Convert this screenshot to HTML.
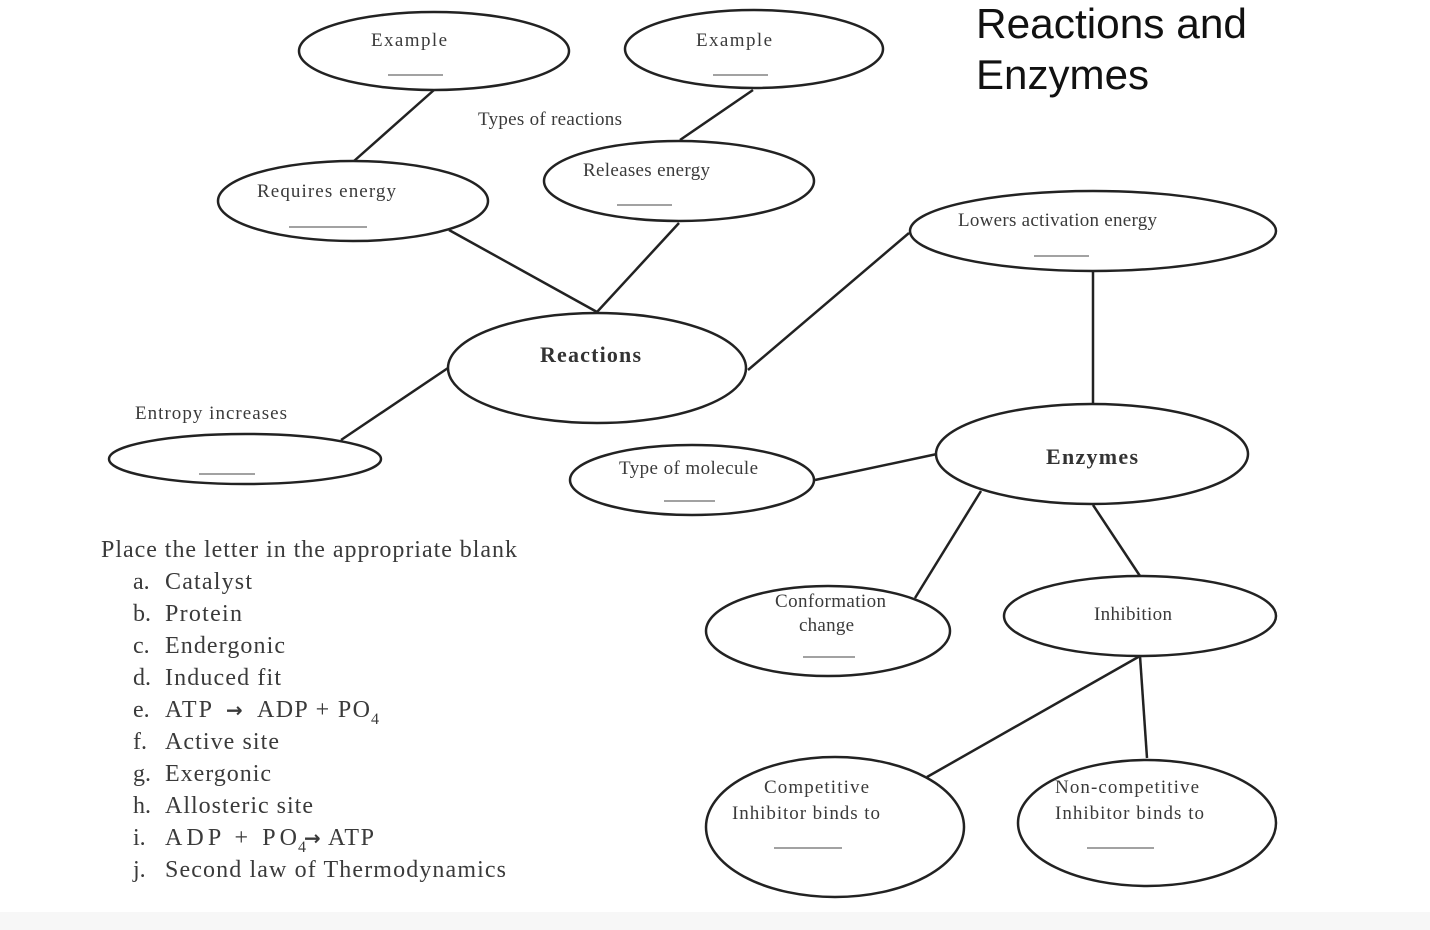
<!DOCTYPE html>
<html><head><meta charset="utf-8"><style>
html,body{margin:0;padding:0;background:#fff;}
svg{display:block;}
.s{font-family:"Liberation Serif",serif;fill:#3a3a3a;}
</style></head><body>
<svg width="1430" height="930" viewBox="0 0 1430 930" xmlns="http://www.w3.org/2000/svg">
<rect x="0" y="912" width="1430" height="18" fill="#f7f7f7"/>
<g fill="none" stroke="#222" stroke-width="2.5">
<ellipse cx="434" cy="51" rx="135" ry="39"/>
<ellipse cx="754" cy="49" rx="129" ry="39"/>
<ellipse cx="353" cy="201" rx="135" ry="40"/>
<ellipse cx="679" cy="181" rx="135" ry="40"/>
<ellipse cx="1093" cy="231" rx="183" ry="40"/>
<ellipse cx="597" cy="368" rx="149" ry="55"/>
<ellipse cx="245" cy="459" rx="136" ry="25"/>
<ellipse cx="692" cy="480" rx="122" ry="35"/>
<ellipse cx="1092" cy="454" rx="156" ry="50"/>
<ellipse cx="828" cy="631" rx="122" ry="45"/>
<ellipse cx="1140" cy="616" rx="136" ry="40"/>
<ellipse cx="835" cy="827" rx="129" ry="70"/>
<ellipse cx="1147" cy="823" rx="129" ry="63"/>
<line x1="434" y1="90" x2="354" y2="161"/>
<line x1="753" y1="90" x2="680" y2="140"/>
<line x1="449" y1="230" x2="597" y2="312"/>
<line x1="679" y1="223" x2="597" y2="312"/>
<line x1="909" y1="233" x2="748" y2="370"/>
<line x1="1093" y1="271" x2="1093" y2="404"/>
<line x1="448" y1="368" x2="341" y2="440"/>
<line x1="815" y1="480" x2="937" y2="454"/>
<line x1="981" y1="491" x2="915" y2="598"/>
<line x1="1093" y1="505" x2="1140" y2="576"/>
<line x1="1140" y1="656" x2="927" y2="777"/>
<line x1="1140" y1="656" x2="1147" y2="758"/>
</g>
<g stroke="#444" stroke-width="1">
<line x1="388" y1="75" x2="443" y2="75"/>
<line x1="713" y1="75" x2="768" y2="75"/>
<line x1="289" y1="227" x2="367" y2="227"/>
<line x1="617" y1="205" x2="672" y2="205"/>
<line x1="1034" y1="256" x2="1089" y2="256"/>
<line x1="199" y1="474" x2="255" y2="474"/>
<line x1="664" y1="501" x2="715" y2="501"/>
<line x1="803" y1="657" x2="855" y2="657"/>
<line x1="774" y1="848" x2="842" y2="848"/>
<line x1="1087" y1="848" x2="1154" y2="848"/>
</g>
<g class="s" font-size="19" lengthAdjust="spacingAndGlyphs">
<text x="371" y="46" textLength="76">Example</text>
<text x="696" y="46" textLength="76">Example</text>
<text x="478" y="125" textLength="144">Types of reactions</text>
<text x="257" y="197" textLength="139">Requires energy</text>
<text x="583" y="176" textLength="127">Releases energy</text>
<text x="958" y="226" textLength="199">Lowers activation energy</text>
<text x="135" y="419" textLength="152">Entropy increases</text>
<text x="619" y="474" textLength="139">Type of molecule</text>
<text x="775" y="607" textLength="111">Conformation</text>
<text x="799" y="631" textLength="55">change</text>
<text x="1094" y="620" textLength="78">Inhibition</text>
<text x="764" y="793" textLength="105">Competitive</text>
<text x="732" y="819" textLength="148">Inhibitor binds to</text>
<text x="1055" y="793" textLength="144">Non-competitive</text>
<text x="1055" y="819" textLength="149">Inhibitor binds to</text>
<text x="540" y="362" font-size="22" font-weight="bold" fill="#333" textLength="101">Reactions</text>
<text x="1046" y="464" font-size="22" font-weight="bold" fill="#333" textLength="92">Enzymes</text>
</g>
<g font-family="Liberation Sans,sans-serif" font-size="42" fill="#111">
<text x="976" y="38" textLength="271" lengthAdjust="spacingAndGlyphs">Reactions and</text>
<text x="976" y="89" textLength="173" lengthAdjust="spacingAndGlyphs">Enzymes</text>
</g>
<g class="s" font-size="24" fill="#333" lengthAdjust="spacingAndGlyphs">
<text x="101" y="557" textLength="416">Place the letter in the appropriate blank</text>
<text x="133" y="589">a.</text><text x="165" y="589" textLength="87">Catalyst</text>
<text x="133" y="621">b.</text><text x="165" y="621" textLength="77">Protein</text>
<text x="133" y="653">c.</text><text x="165" y="653" textLength="120">Endergonic</text>
<text x="133" y="685">d.</text><text x="165" y="685" textLength="116">Induced fit</text>
<text x="133" y="717">e.</text><text x="165" y="717" textLength="47">ATP</text>
<text x="226" y="717" font-family="DejaVu Sans,sans-serif" font-weight="bold" font-size="20">→</text>
<text x="257" y="717" textLength="113">ADP + PO</text><text x="371" y="724" font-size="16">4</text>
<text x="133" y="749">f.</text><text x="165" y="749" textLength="114">Active site</text>
<text x="133" y="781">g.</text><text x="165" y="781" textLength="106">Exergonic</text>
<text x="133" y="813">h.</text><text x="165" y="813" textLength="148">Allosteric site</text>
<text x="133" y="845">i.</text><text x="165" y="845" textLength="132">ADP + PO</text><text x="298" y="852" font-size="16">4</text>
<text x="304" y="845" font-family="DejaVu Sans,sans-serif" font-weight="bold" font-size="20">→</text>
<text x="328" y="845" textLength="46">ATP</text>
<text x="133" y="877">j.</text><text x="165" y="877" textLength="341">Second law of Thermodynamics</text>
</g>
</svg>
</body></html>
